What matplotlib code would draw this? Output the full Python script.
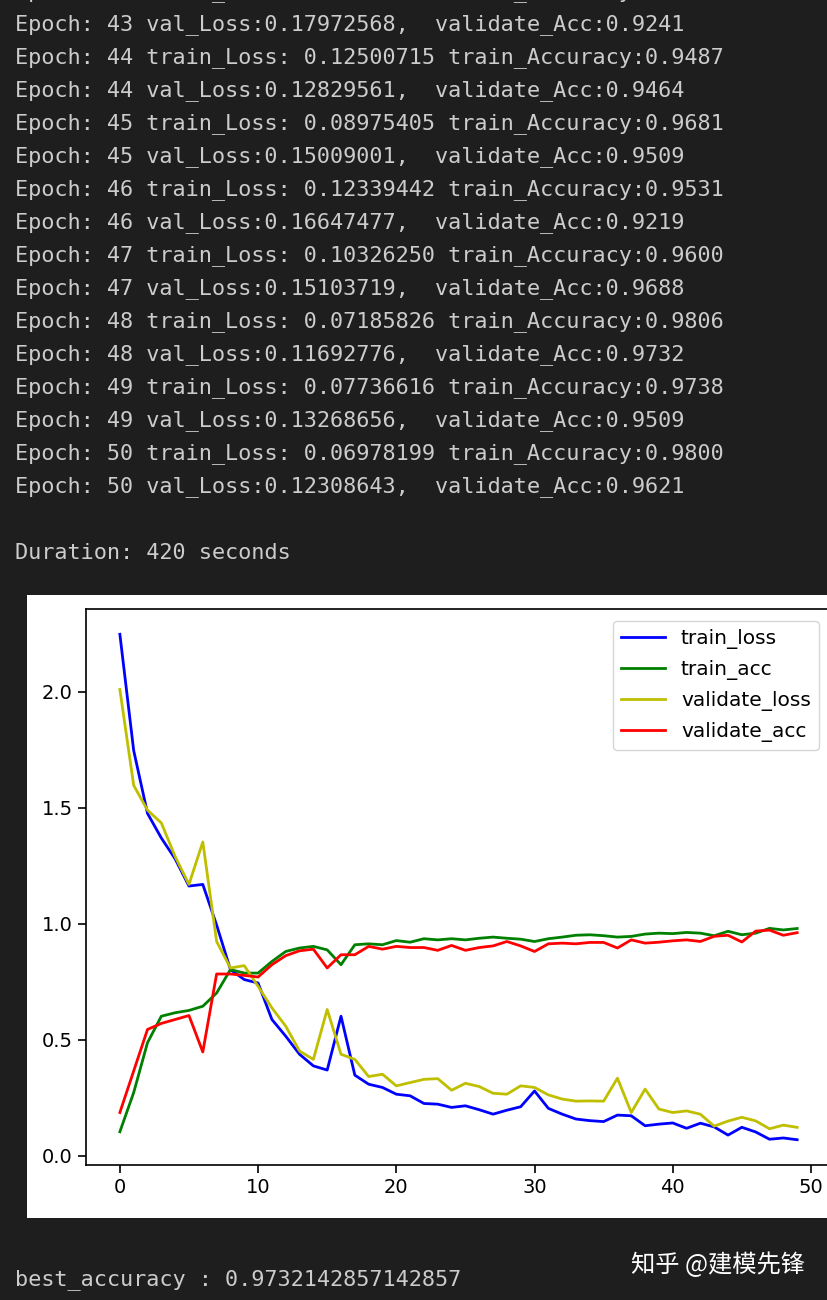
import matplotlib.pyplot as plt
from matplotlib.patches import Rectangle

train_loss = [2.248, 1.747, 1.476, 1.37, 1.28, 1.163, 1.17, 0.995, 0.803, 0.76,
              0.745, 0.588, 0.516, 0.438, 0.388, 0.370, 0.602, 0.348, 0.309, 0.295,
              0.266, 0.259, 0.226, 0.223, 0.209, 0.216, 0.199, 0.180, 0.197, 0.212,
              0.280, 0.205, 0.180, 0.159, 0.152, 0.148, 0.176, 0.173, 0.130, 0.137,
              0.142, 0.119, 0.141, 0.12500715, 0.08975405, 0.12339442, 0.10326250,
              0.07185826, 0.07736616, 0.06978199]
train_acc = [0.104, 0.273, 0.488, 0.602, 0.617, 0.627, 0.645, 0.702, 0.803, 0.788,
             0.788, 0.838, 0.881, 0.896, 0.903, 0.888, 0.824, 0.910, 0.914, 0.910,
             0.928, 0.921, 0.936, 0.931, 0.936, 0.931, 0.938, 0.943, 0.938, 0.934,
             0.924, 0.936, 0.943, 0.951, 0.953, 0.949, 0.943, 0.946, 0.956, 0.960,
             0.958, 0.963, 0.960, 0.9487, 0.9681, 0.9531, 0.9600, 0.9806, 0.9738, 0.9800]
val_loss = [2.01, 1.597, 1.49, 1.435, 1.29, 1.17, 1.353, 0.924, 0.81, 0.82,
            0.731, 0.638, 0.559, 0.452, 0.416, 0.631, 0.438, 0.416, 0.342, 0.352,
            0.302, 0.316, 0.330, 0.333, 0.283, 0.313, 0.299, 0.270, 0.266, 0.302,
            0.295, 0.263, 0.245, 0.236, 0.237, 0.236, 0.335, 0.187, 0.288, 0.202,
            0.187, 0.194, 0.17972568, 0.12829561, 0.15009001, 0.16647477, 0.15103719,
            0.11692776, 0.13268656, 0.12308643]
val_acc = [0.187, 0.366, 0.545, 0.571, 0.588, 0.605, 0.448, 0.784, 0.784, 0.778,
           0.771, 0.824, 0.863, 0.884, 0.891, 0.81, 0.867, 0.867, 0.903, 0.891,
           0.903, 0.898, 0.898, 0.886, 0.907, 0.886, 0.898, 0.905, 0.924, 0.905,
           0.881, 0.914, 0.917, 0.914, 0.920, 0.920, 0.896, 0.931, 0.917, 0.921,
           0.927, 0.931, 0.9241, 0.9464, 0.9509, 0.9219, 0.9688, 0.9732, 0.9509, 0.9621]
epochs = list(range(len(train_loss)))

duration = 420
best_accuracy = "0.9732142857142857"
watermark = "知乎 @建模先锋"

W, H = 828, 1300
BG = "#1e1e1e"
FG = "#cccccc"
MONO = "DejaVu Sans Mono"
CHART_FONT = "DejaVu Sans"

fig = plt.figure(figsize=(W / 100, H / 100), dpi=100, facecolor=BG)

# terminal log lines (last epochs)
lines = []
for i in range(42, 50):
    lines.append(f"Epoch: {i + 1} train_Loss: {train_loss[i]:.8f} train_Accuracy:{train_acc[i]:.4f}")
    lines.append(f"Epoch: {i + 1} val_Loss:{val_loss[i]:.8f},  validate_Acc:{val_acc[i]:.4f}")

y0 = -8
for k, s in enumerate(lines):
    fig.text(15 / W, 1 - (y0 + 33 * k) / H, s, color=FG, family=MONO,
             fontsize=15.75, va="center", ha="left")
fig.text(15 / W, 1 - 553 / H, f"Duration: {duration} seconds", color=FG,
         family=MONO, fontsize=15.75, va="center")
fig.text(15 / W, 1 - 1280 / H, f"best_accuracy : {best_accuracy}", color=FG,
         family=MONO, fontsize=15.75, va="center")
fig.text(805 / W, 1 - 1265 / H, watermark, color="white", ha="right", va="center",
         family=["Noto Sans CJK SC", "DejaVu Sans"], fontsize=17.5)

# white picture area
fig.patches.append(Rectangle((27 / W, 1 - 1218 / H), 1, (1218 - 595) / H,
                             transform=fig.transFigure, facecolor="white",
                             edgecolor="none", zorder=0))

ax = fig.add_axes([86 / W, 1 - 1165 / H, (831 - 86) / W, (1165 - 609) / H])
ax.set_zorder(2)
ax.plot(epochs, train_loss, "b", lw=2, label="train_loss")
ax.plot(epochs, train_acc, "g", lw=2, label="train_acc")
ax.plot(epochs, val_loss, "y", lw=2, label="validate_loss")
ax.plot(epochs, val_acc, "r", lw=2, label="validate_acc")
ax.set_xticks([0, 10, 20, 30, 40, 50])
ax.set_yticks([0.0, 0.5, 1.0, 1.5, 2.0])
for lab in ax.get_xticklabels() + ax.get_yticklabels():
    lab.set_family(CHART_FONT)
    lab.set_fontsize(14)
for sp in ax.spines.values():
    sp.set_linewidth(1.2)
ax.tick_params(length=6, width=1.2)
leg = ax.legend(loc="upper right", prop={"family": CHART_FONT, "size": 14.5},
                borderaxespad=0.6, labelspacing=0.55, handlelength=2.2)

fig.savefig("out.png", dpi=100, facecolor=BG)
